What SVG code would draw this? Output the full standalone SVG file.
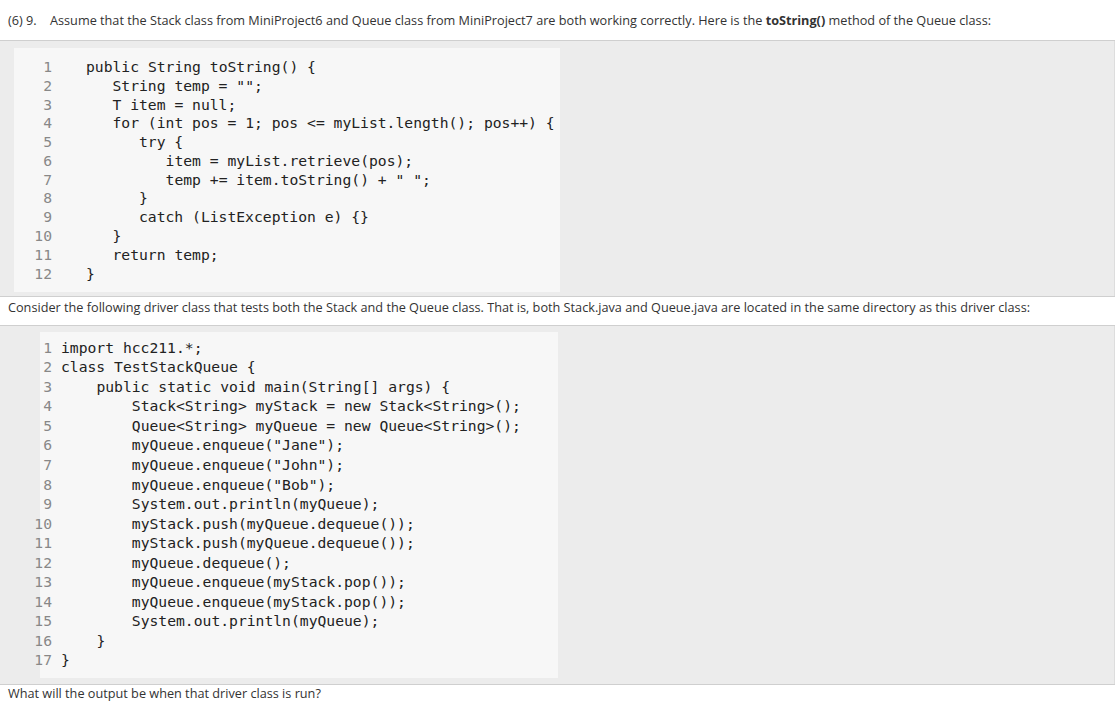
<svg xmlns="http://www.w3.org/2000/svg" width="1115" height="724" viewBox="0 0 1115 724">
<style>
.p{font-family:"Open Sans",sans-serif;font-size:12.7px;fill:#333}
.c{font-family:"DejaVu Sans Mono",monospace;font-size:14.7px;fill:#222}
.n{font-family:"DejaVu Sans Mono",monospace;font-size:14.7px;fill:#888;text-anchor:end}
.band{fill:#ececec;stroke:#cfcfcf}
.box{fill:#f7f7f7}
</style>
<rect width="1115" height="724" fill="#fff"/>
<text class="p" x="8" y="25">(6) 9.</text>
<text class="p" x="50" y="25">Assume that the Stack class from MiniProject6 and Queue class from MiniProject7 are both working correctly.  Here is the <tspan font-weight="bold">toString()</tspan> method of the Queue class:</text>
<rect class="band" x="-1" y="40.5" width="1116" height="256"/>
<rect class="box" x="14" y="48" width="546" height="244"/>
<g class="n"><text x="52" y="72">1</text><text x="52" y="91">2</text><text x="52" y="110">3</text><text x="52" y="128">4</text><text x="52" y="147">5</text><text x="52" y="166">6</text><text x="52" y="185">7</text><text x="52" y="203">8</text><text x="52" y="222">9</text><text x="52" y="241">10</text><text x="52" y="260">11</text><text x="52" y="279">12</text></g>
<g class="c"><text x="86" y="72">public String toString() {</text><text x="112.5" y="91">String temp = "";</text><text x="112.5" y="110">T item = null;</text><text x="112.5" y="128">for (int pos = 1; pos &lt;= myList.length(); pos++) {</text><text x="139" y="147">try {</text><text x="165.6" y="166">item = myList.retrieve(pos);</text><text x="165.6" y="185">temp += item.toString() + " ";</text><text x="139" y="203">}</text><text x="139" y="222">catch (ListException e) {}</text><text x="112.5" y="241">}</text><text x="112.5" y="260">return temp;</text><text x="86" y="279">}</text></g>
<text class="p" x="8" y="312">Consider the following driver class that tests both the Stack and the Queue class.  That is, both Stack.java and Queue.java are located in the same directory as this driver class:</text>
<rect class="band" x="-1" y="325.5" width="1116" height="359"/>
<rect class="box" x="40" y="332" width="518" height="346"/>
<g class="n"><text x="52" y="353">1</text><text x="52" y="372">2</text><text x="52" y="392">3</text><text x="52" y="411">4</text><text x="52" y="431">5</text><text x="52" y="450">6</text><text x="52" y="470">7</text><text x="52" y="490">8</text><text x="52" y="509">9</text><text x="52" y="529">10</text><text x="52" y="548">11</text><text x="52" y="568">12</text><text x="52" y="587">13</text><text x="52" y="607">14</text><text x="52" y="626">15</text><text x="52" y="646">16</text><text x="52" y="665">17</text></g>
<g class="c"><text x="61" y="353">import hcc211.*;</text><text x="61" y="372">class TestStackQueue {</text><text x="96.4" y="392">public static void main(String[] args) {</text><text x="131.8" y="411">Stack&lt;String&gt; myStack = new Stack&lt;String&gt;();</text><text x="131.8" y="431">Queue&lt;String&gt; myQueue = new Queue&lt;String&gt;();</text><text x="131.8" y="450">myQueue.enqueue("Jane");</text><text x="131.8" y="470">myQueue.enqueue("John");</text><text x="131.8" y="490">myQueue.enqueue("Bob");</text><text x="131.8" y="509">System.out.println(myQueue);</text><text x="131.8" y="529">myStack.push(myQueue.dequeue());</text><text x="131.8" y="548">myStack.push(myQueue.dequeue());</text><text x="131.8" y="568">myQueue.dequeue();</text><text x="131.8" y="587">myQueue.enqueue(myStack.pop());</text><text x="131.8" y="607">myQueue.enqueue(myStack.pop());</text><text x="131.8" y="626">System.out.println(myQueue);</text><text x="96.4" y="646">}</text><text x="61" y="665">}</text></g>
<text class="p" x="8" y="698">What will the output be when that driver class is run?</text>
</svg>
